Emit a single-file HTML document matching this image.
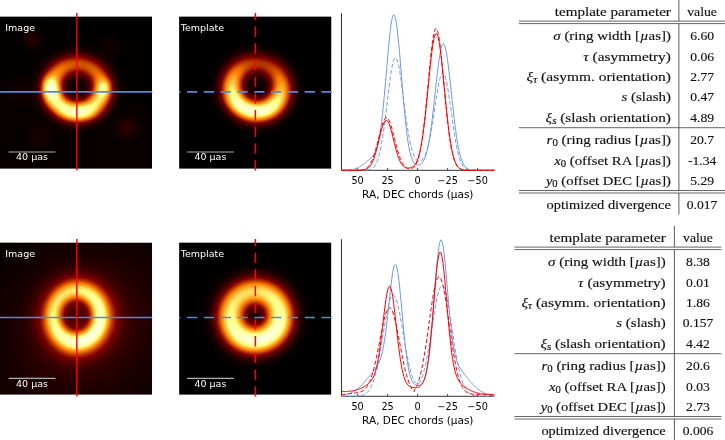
<!DOCTYPE html>
<html><head><meta charset="utf-8"><title>Template fits</title>
<style>
html,body{margin:0;padding:0;background:#fff;}
svg{display:block}
text{font-family:"DejaVu Sans","Liberation Sans",sans-serif;}
.tb text{font-family:"Liberation Serif",serif;font-size:13.3px;fill:#111;stroke:#111;stroke-width:0.15px;}
.tb .i{font-style:italic}
.tb .sub{font-size:9.6px}
</style></head><body>
<svg width="725" height="440" viewBox="0 0 725 440">
<defs>
<filter id="afmhot" x="0" y="0" width="100%" height="100%" color-interpolation-filters="sRGB">
<feComponentTransfer>
<feFuncR type="table" tableValues="0 0.5 1 1 1"/>
<feFuncG type="table" tableValues="0 0 0.5 1 1"/>
<feFuncB type="table" tableValues="0 0 0 0.5 1"/>
</feComponentTransfer>
</filter>
<radialGradient id="gb" cx="0.5" cy="0.5" r="0.5"><stop offset="0.0000" stop-color="#fff" stop-opacity="1.0000"/><stop offset="0.0833" stop-color="#fff" stop-opacity="0.9683"/><stop offset="0.1667" stop-color="#fff" stop-opacity="0.8806"/><stop offset="0.2500" stop-color="#fff" stop-opacity="0.7521"/><stop offset="0.3333" stop-color="#fff" stop-opacity="0.6028"/><stop offset="0.4167" stop-color="#fff" stop-opacity="0.4532"/><stop offset="0.5000" stop-color="#fff" stop-opacity="0.3191"/><stop offset="0.5833" stop-color="#fff" stop-opacity="0.2098"/><stop offset="0.6667" stop-color="#fff" stop-opacity="0.1279"/><stop offset="0.7500" stop-color="#fff" stop-opacity="0.0712"/><stop offset="0.8333" stop-color="#fff" stop-opacity="0.0347"/><stop offset="0.9167" stop-color="#fff" stop-opacity="0.0126"/><stop offset="1.0000" stop-color="#fff" stop-opacity="0.0000"/></radialGradient>
<radialGradient id="rga" gradientUnits="userSpaceOnUse" cx="77.30" cy="70.60" r="55.70" gradientTransform="translate(77.30 70.60) scale(0.98 0.95) translate(-77.30 -70.60)"><stop offset="0.0000" stop-color="#fff" stop-opacity="0.0033"/><stop offset="0.0250" stop-color="#fff" stop-opacity="0.0060"/><stop offset="0.0500" stop-color="#fff" stop-opacity="0.0104"/><stop offset="0.0750" stop-color="#fff" stop-opacity="0.0177"/><stop offset="0.1000" stop-color="#fff" stop-opacity="0.0289"/><stop offset="0.1250" stop-color="#fff" stop-opacity="0.0457"/><stop offset="0.1500" stop-color="#fff" stop-opacity="0.0700"/><stop offset="0.1750" stop-color="#fff" stop-opacity="0.1035"/><stop offset="0.2000" stop-color="#fff" stop-opacity="0.1481"/><stop offset="0.2250" stop-color="#fff" stop-opacity="0.2049"/><stop offset="0.2500" stop-color="#fff" stop-opacity="0.2741"/><stop offset="0.2750" stop-color="#fff" stop-opacity="0.3545"/><stop offset="0.3000" stop-color="#fff" stop-opacity="0.4435"/><stop offset="0.3250" stop-color="#fff" stop-opacity="0.5364"/><stop offset="0.3500" stop-color="#fff" stop-opacity="0.6275"/><stop offset="0.3750" stop-color="#fff" stop-opacity="0.7097"/><stop offset="0.4000" stop-color="#fff" stop-opacity="0.7762"/><stop offset="0.4250" stop-color="#fff" stop-opacity="0.8210"/><stop offset="0.4500" stop-color="#fff" stop-opacity="0.8396"/><stop offset="0.4750" stop-color="#fff" stop-opacity="0.8303"/><stop offset="0.5000" stop-color="#fff" stop-opacity="0.7940"/><stop offset="0.5250" stop-color="#fff" stop-opacity="0.7343"/><stop offset="0.5500" stop-color="#fff" stop-opacity="0.6566"/><stop offset="0.5750" stop-color="#fff" stop-opacity="0.5677"/><stop offset="0.6000" stop-color="#fff" stop-opacity="0.4747"/><stop offset="0.6250" stop-color="#fff" stop-opacity="0.3838"/><stop offset="0.6500" stop-color="#fff" stop-opacity="0.3001"/><stop offset="0.6750" stop-color="#fff" stop-opacity="0.2269"/><stop offset="0.7000" stop-color="#fff" stop-opacity="0.1658"/><stop offset="0.7250" stop-color="#fff" stop-opacity="0.1172"/><stop offset="0.7500" stop-color="#fff" stop-opacity="0.0801"/><stop offset="0.7750" stop-color="#fff" stop-opacity="0.0530"/><stop offset="0.8000" stop-color="#fff" stop-opacity="0.0339"/><stop offset="0.8250" stop-color="#fff" stop-opacity="0.0209"/><stop offset="0.8500" stop-color="#fff" stop-opacity="0.0125"/><stop offset="0.8750" stop-color="#fff" stop-opacity="0.0072"/><stop offset="0.9000" stop-color="#fff" stop-opacity="0.0040"/><stop offset="0.9250" stop-color="#fff" stop-opacity="0.0022"/><stop offset="0.9500" stop-color="#fff" stop-opacity="0.0011"/><stop offset="0.9750" stop-color="#fff" stop-opacity="0.0006"/><stop offset="1.0000" stop-color="#fff" stop-opacity="0.0003"/></radialGradient><linearGradient id="lga" gradientUnits="userSpaceOnUse" x1="89.72" y1="1.43" x2="72.83" y2="95.50"><stop offset="0" stop-color="#000" stop-opacity="1"/><stop offset="1" stop-color="#000" stop-opacity="0"/></linearGradient><radialGradient id="rgb" gradientUnits="userSpaceOnUse" cx="77.59" cy="69.72" r="54.99"><stop offset="0.0000" stop-color="#fff" stop-opacity="0.0050"/><stop offset="0.0250" stop-color="#fff" stop-opacity="0.0089"/><stop offset="0.0500" stop-color="#fff" stop-opacity="0.0152"/><stop offset="0.0750" stop-color="#fff" stop-opacity="0.0252"/><stop offset="0.1000" stop-color="#fff" stop-opacity="0.0403"/><stop offset="0.1250" stop-color="#fff" stop-opacity="0.0624"/><stop offset="0.1500" stop-color="#fff" stop-opacity="0.0935"/><stop offset="0.1750" stop-color="#fff" stop-opacity="0.1357"/><stop offset="0.2000" stop-color="#fff" stop-opacity="0.1905"/><stop offset="0.2250" stop-color="#fff" stop-opacity="0.2589"/><stop offset="0.2500" stop-color="#fff" stop-opacity="0.3405"/><stop offset="0.2750" stop-color="#fff" stop-opacity="0.4335"/><stop offset="0.3000" stop-color="#fff" stop-opacity="0.5341"/><stop offset="0.3250" stop-color="#fff" stop-opacity="0.6368"/><stop offset="0.3500" stop-color="#fff" stop-opacity="0.7349"/><stop offset="0.3750" stop-color="#fff" stop-opacity="0.8208"/><stop offset="0.4000" stop-color="#fff" stop-opacity="0.8872"/><stop offset="0.4250" stop-color="#fff" stop-opacity="0.9282"/><stop offset="0.4500" stop-color="#fff" stop-opacity="0.9398"/><stop offset="0.4750" stop-color="#fff" stop-opacity="0.9209"/><stop offset="0.5000" stop-color="#fff" stop-opacity="0.8734"/><stop offset="0.5250" stop-color="#fff" stop-opacity="0.8017"/><stop offset="0.5500" stop-color="#fff" stop-opacity="0.7122"/><stop offset="0.5750" stop-color="#fff" stop-opacity="0.6124"/><stop offset="0.6000" stop-color="#fff" stop-opacity="0.5096"/><stop offset="0.6250" stop-color="#fff" stop-opacity="0.4104"/><stop offset="0.6500" stop-color="#fff" stop-opacity="0.3199"/><stop offset="0.6750" stop-color="#fff" stop-opacity="0.2413"/><stop offset="0.7000" stop-color="#fff" stop-opacity="0.1762"/><stop offset="0.7250" stop-color="#fff" stop-opacity="0.1245"/><stop offset="0.7500" stop-color="#fff" stop-opacity="0.0851"/><stop offset="0.7750" stop-color="#fff" stop-opacity="0.0563"/><stop offset="0.8000" stop-color="#fff" stop-opacity="0.0361"/><stop offset="0.8250" stop-color="#fff" stop-opacity="0.0224"/><stop offset="0.8500" stop-color="#fff" stop-opacity="0.0134"/><stop offset="0.8750" stop-color="#fff" stop-opacity="0.0078"/><stop offset="0.9000" stop-color="#fff" stop-opacity="0.0044"/><stop offset="0.9250" stop-color="#fff" stop-opacity="0.0024"/><stop offset="0.9500" stop-color="#fff" stop-opacity="0.0013"/><stop offset="0.9750" stop-color="#fff" stop-opacity="0.0006"/><stop offset="1.0000" stop-color="#fff" stop-opacity="0.0003"/></radialGradient><linearGradient id="lgb" gradientUnits="userSpaceOnUse" x1="86.83" y1="18.24" x2="73.25" y2="93.91"><stop offset="0" stop-color="#000" stop-opacity="1"/><stop offset="1" stop-color="#000" stop-opacity="0"/></linearGradient><radialGradient id="rgc2" gradientUnits="userSpaceOnUse" cx="76.77" cy="73.33" r="70.00" gradientTransform="translate(76.77 73.33) scale(0.95 1.0) translate(-76.77 -73.33)"><stop offset="0.0000" stop-color="#fff" stop-opacity="0.0002"/><stop offset="0.0250" stop-color="#fff" stop-opacity="0.0003"/><stop offset="0.0500" stop-color="#fff" stop-opacity="0.0006"/><stop offset="0.0750" stop-color="#fff" stop-opacity="0.0012"/><stop offset="0.1000" stop-color="#fff" stop-opacity="0.0022"/><stop offset="0.1250" stop-color="#fff" stop-opacity="0.0039"/><stop offset="0.1500" stop-color="#fff" stop-opacity="0.0066"/><stop offset="0.1750" stop-color="#fff" stop-opacity="0.0108"/><stop offset="0.2000" stop-color="#fff" stop-opacity="0.0169"/><stop offset="0.2250" stop-color="#fff" stop-opacity="0.0256"/><stop offset="0.2500" stop-color="#fff" stop-opacity="0.0373"/><stop offset="0.2750" stop-color="#fff" stop-opacity="0.0522"/><stop offset="0.3000" stop-color="#fff" stop-opacity="0.0705"/><stop offset="0.3250" stop-color="#fff" stop-opacity="0.0916"/><stop offset="0.3500" stop-color="#fff" stop-opacity="0.1146"/><stop offset="0.3750" stop-color="#fff" stop-opacity="0.1380"/><stop offset="0.4000" stop-color="#fff" stop-opacity="0.1601"/><stop offset="0.4250" stop-color="#fff" stop-opacity="0.1789"/><stop offset="0.4500" stop-color="#fff" stop-opacity="0.1924"/><stop offset="0.4750" stop-color="#fff" stop-opacity="0.1993"/><stop offset="0.5000" stop-color="#fff" stop-opacity="0.1988"/><stop offset="0.5250" stop-color="#fff" stop-opacity="0.1909"/><stop offset="0.5500" stop-color="#fff" stop-opacity="0.1765"/><stop offset="0.5750" stop-color="#fff" stop-opacity="0.1571"/><stop offset="0.6000" stop-color="#fff" stop-opacity="0.1347"/><stop offset="0.6250" stop-color="#fff" stop-opacity="0.1112"/><stop offset="0.6500" stop-color="#fff" stop-opacity="0.0884"/><stop offset="0.6750" stop-color="#fff" stop-opacity="0.0677"/><stop offset="0.7000" stop-color="#fff" stop-opacity="0.0499"/><stop offset="0.7250" stop-color="#fff" stop-opacity="0.0354"/><stop offset="0.7500" stop-color="#fff" stop-opacity="0.0242"/><stop offset="0.7750" stop-color="#fff" stop-opacity="0.0159"/><stop offset="0.8000" stop-color="#fff" stop-opacity="0.0101"/><stop offset="0.8250" stop-color="#fff" stop-opacity="0.0061"/><stop offset="0.8500" stop-color="#fff" stop-opacity="0.0036"/><stop offset="0.8750" stop-color="#fff" stop-opacity="0.0020"/><stop offset="0.9000" stop-color="#fff" stop-opacity="0.0011"/><stop offset="0.9250" stop-color="#fff" stop-opacity="0.0006"/><stop offset="0.9500" stop-color="#fff" stop-opacity="0.0003"/><stop offset="0.9750" stop-color="#fff" stop-opacity="0.0001"/><stop offset="1.0000" stop-color="#fff" stop-opacity="0.0001"/></radialGradient><linearGradient id="lgc2" gradientUnits="userSpaceOnUse" x1="-209024.04" y1="-268025.26" x2="97.68" y2="100.14"><stop offset="0" stop-color="#000" stop-opacity="1"/><stop offset="1" stop-color="#000" stop-opacity="0"/></linearGradient><radialGradient id="rgc" gradientUnits="userSpaceOnUse" cx="76.77" cy="73.33" r="51.89" gradientTransform="translate(76.77 73.33) scale(0.915 1.0) translate(-76.77 -73.33)"><stop offset="0.0000" stop-color="#fff" stop-opacity="0.0004"/><stop offset="0.0250" stop-color="#fff" stop-opacity="0.0008"/><stop offset="0.0500" stop-color="#fff" stop-opacity="0.0018"/><stop offset="0.0750" stop-color="#fff" stop-opacity="0.0035"/><stop offset="0.1000" stop-color="#fff" stop-opacity="0.0066"/><stop offset="0.1250" stop-color="#fff" stop-opacity="0.0122"/><stop offset="0.1500" stop-color="#fff" stop-opacity="0.0214"/><stop offset="0.1750" stop-color="#fff" stop-opacity="0.0363"/><stop offset="0.2000" stop-color="#fff" stop-opacity="0.0592"/><stop offset="0.2250" stop-color="#fff" stop-opacity="0.0926"/><stop offset="0.2500" stop-color="#fff" stop-opacity="0.1394"/><stop offset="0.2750" stop-color="#fff" stop-opacity="0.2017"/><stop offset="0.3000" stop-color="#fff" stop-opacity="0.2806"/><stop offset="0.3250" stop-color="#fff" stop-opacity="0.3752"/><stop offset="0.3500" stop-color="#fff" stop-opacity="0.4822"/><stop offset="0.3750" stop-color="#fff" stop-opacity="0.5958"/><stop offset="0.4000" stop-color="#fff" stop-opacity="0.7078"/><stop offset="0.4250" stop-color="#fff" stop-opacity="0.8082"/><stop offset="0.4500" stop-color="#fff" stop-opacity="0.8871"/><stop offset="0.4750" stop-color="#fff" stop-opacity="0.9362"/><stop offset="0.5000" stop-color="#fff" stop-opacity="0.9496"/><stop offset="0.5250" stop-color="#fff" stop-opacity="0.9261"/><stop offset="0.5500" stop-color="#fff" stop-opacity="0.8681"/><stop offset="0.5750" stop-color="#fff" stop-opacity="0.7823"/><stop offset="0.6000" stop-color="#fff" stop-opacity="0.6777"/><stop offset="0.6250" stop-color="#fff" stop-opacity="0.5644"/><stop offset="0.6500" stop-color="#fff" stop-opacity="0.4519"/><stop offset="0.6750" stop-color="#fff" stop-opacity="0.3478"/><stop offset="0.7000" stop-color="#fff" stop-opacity="0.2573"/><stop offset="0.7250" stop-color="#fff" stop-opacity="0.1830"/><stop offset="0.7500" stop-color="#fff" stop-opacity="0.1251"/><stop offset="0.7750" stop-color="#fff" stop-opacity="0.0822"/><stop offset="0.8000" stop-color="#fff" stop-opacity="0.0519"/><stop offset="0.8250" stop-color="#fff" stop-opacity="0.0316"/><stop offset="0.8500" stop-color="#fff" stop-opacity="0.0184"/><stop offset="0.8750" stop-color="#fff" stop-opacity="0.0103"/><stop offset="0.9000" stop-color="#fff" stop-opacity="0.0056"/><stop offset="0.9250" stop-color="#fff" stop-opacity="0.0029"/><stop offset="0.9500" stop-color="#fff" stop-opacity="0.0014"/><stop offset="0.9750" stop-color="#fff" stop-opacity="0.0007"/><stop offset="1.0000" stop-color="#fff" stop-opacity="0.0003"/></radialGradient><linearGradient id="lgc" gradientUnits="userSpaceOnUse" x1="-21.66" y1="-52.88" x2="92.62" y2="93.65"><stop offset="0" stop-color="#000" stop-opacity="1"/><stop offset="1" stop-color="#000" stop-opacity="0"/></linearGradient><radialGradient id="rgd" gradientUnits="userSpaceOnUse" cx="75.96" cy="72.76" r="63.07"><stop offset="0.0000" stop-color="#fff" stop-opacity="0.0379"/><stop offset="0.0250" stop-color="#fff" stop-opacity="0.0566"/><stop offset="0.0500" stop-color="#fff" stop-opacity="0.0822"/><stop offset="0.0750" stop-color="#fff" stop-opacity="0.1163"/><stop offset="0.1000" stop-color="#fff" stop-opacity="0.1603"/><stop offset="0.1250" stop-color="#fff" stop-opacity="0.2151"/><stop offset="0.1500" stop-color="#fff" stop-opacity="0.2810"/><stop offset="0.1750" stop-color="#fff" stop-opacity="0.3574"/><stop offset="0.2000" stop-color="#fff" stop-opacity="0.4426"/><stop offset="0.2250" stop-color="#fff" stop-opacity="0.5337"/><stop offset="0.2500" stop-color="#fff" stop-opacity="0.6266"/><stop offset="0.2750" stop-color="#fff" stop-opacity="0.7163"/><stop offset="0.3000" stop-color="#fff" stop-opacity="0.7972"/><stop offset="0.3250" stop-color="#fff" stop-opacity="0.8640"/><stop offset="0.3500" stop-color="#fff" stop-opacity="0.9117"/><stop offset="0.3750" stop-color="#fff" stop-opacity="0.9367"/><stop offset="0.4000" stop-color="#fff" stop-opacity="0.9370"/><stop offset="0.4250" stop-color="#fff" stop-opacity="0.9127"/><stop offset="0.4500" stop-color="#fff" stop-opacity="0.8656"/><stop offset="0.4750" stop-color="#fff" stop-opacity="0.7993"/><stop offset="0.5000" stop-color="#fff" stop-opacity="0.7186"/><stop offset="0.5250" stop-color="#fff" stop-opacity="0.6291"/><stop offset="0.5500" stop-color="#fff" stop-opacity="0.5362"/><stop offset="0.5750" stop-color="#fff" stop-opacity="0.4450"/><stop offset="0.6000" stop-color="#fff" stop-opacity="0.3596"/><stop offset="0.6250" stop-color="#fff" stop-opacity="0.2829"/><stop offset="0.6500" stop-color="#fff" stop-opacity="0.2167"/><stop offset="0.6750" stop-color="#fff" stop-opacity="0.1617"/><stop offset="0.7000" stop-color="#fff" stop-opacity="0.1174"/><stop offset="0.7250" stop-color="#fff" stop-opacity="0.0830"/><stop offset="0.7500" stop-color="#fff" stop-opacity="0.0572"/><stop offset="0.7750" stop-color="#fff" stop-opacity="0.0383"/><stop offset="0.8000" stop-color="#fff" stop-opacity="0.0250"/><stop offset="0.8250" stop-color="#fff" stop-opacity="0.0159"/><stop offset="0.8500" stop-color="#fff" stop-opacity="0.0098"/><stop offset="0.8750" stop-color="#fff" stop-opacity="0.0059"/><stop offset="0.9000" stop-color="#fff" stop-opacity="0.0035"/><stop offset="0.9250" stop-color="#fff" stop-opacity="0.0020"/><stop offset="0.9500" stop-color="#fff" stop-opacity="0.0011"/><stop offset="0.9750" stop-color="#fff" stop-opacity="0.0006"/><stop offset="1.0000" stop-color="#fff" stop-opacity="0.0003"/></radialGradient><linearGradient id="lgd" gradientUnits="userSpaceOnUse" x1="31.05" y1="-76.44" x2="83.02" y2="96.18"><stop offset="0" stop-color="#000" stop-opacity="1"/><stop offset="1" stop-color="#000" stop-opacity="0"/></linearGradient>
</defs>
<rect width="725" height="440" fill="#fff"/>
<svg x="-0.3" y="16.5" width="152.3" height="152.3" viewBox="0 0 152 152" preserveAspectRatio="none"><g filter="url(#afmhot)"><rect width="152" height="152" fill="#000"/><rect width="152" height="152" fill="#fff" fill-opacity="0.012"/><ellipse cx="77.30" cy="70.60" rx="54.59" ry="52.91" fill="url(#rga)"/><rect x="0" y="0" width="152" height="152" fill="url(#lga)"/><ellipse cx="51.00" cy="73.00" rx="14.40" ry="22.80" fill="url(#gb)" fill-opacity="0.92" transform="rotate(-8 51.00 73.00)"/><ellipse cx="103.50" cy="72.50" rx="13.20" ry="18.60" fill="url(#gb)" fill-opacity="0.6" transform="rotate(8 103.50 72.50)"/><ellipse cx="78.50" cy="96.00" rx="28.50" ry="13.50" fill="url(#gb)" fill-opacity="0.42"/><ellipse cx="33.00" cy="23.00" rx="18.00" ry="18.00" fill="url(#gb)" fill-opacity="0.07"/><ellipse cx="127.00" cy="111.00" rx="21.00" ry="21.00" fill="url(#gb)" fill-opacity="0.08"/><ellipse cx="40.00" cy="120.00" rx="24.00" ry="24.00" fill="url(#gb)" fill-opacity="0.04"/><ellipse cx="110.00" cy="30.00" rx="24.00" ry="24.00" fill="url(#gb)" fill-opacity="0.03"/><ellipse cx="22.00" cy="75.00" rx="27.00" ry="27.00" fill="url(#gb)" fill-opacity="0.03"/></g></svg><path d="M152.30 91.90H0.00" stroke="#5688da" stroke-width="1.65" fill="none"/><path d="M76.85 170.50V13.00" stroke="#f00" stroke-width="1.45" fill="none"/><text x="5.30" y="30.55" font-size="9.5" fill="#fff">Image</text><path d="M8.70 152.05h46.8" stroke="#b0b0b0" stroke-width="1.1"/><text x="32.00" y="160.30" font-size="9.5" fill="#fff" text-anchor="middle">40 µas</text><svg x="179.1" y="16.5" width="152.3" height="152.3" viewBox="0 0 152 152" preserveAspectRatio="none"><g filter="url(#afmhot)"><rect width="152" height="152" fill="#000"/><ellipse cx="77.59" cy="69.72" rx="54.99" ry="54.99" fill="url(#rgb)"/><rect x="0" y="0" width="152" height="152" fill="url(#lgb)"/></g></svg><path d="M331.70 91.90H179.20" stroke="#5688da" stroke-width="1.65" fill="none" stroke-dasharray="10.3 6.5"/><path d="M255.40 170.50V13.00" stroke="#f00" stroke-width="1.45" fill="none" stroke-dasharray="10.3 6.4"/><text x="180.80" y="30.55" font-size="9.5" fill="#fff">Template</text><path d="M187.10 152.05h46.8" stroke="#b0b0b0" stroke-width="1.1"/><text x="210.40" y="160.30" font-size="9.5" fill="#fff" text-anchor="middle">40 µas</text><svg x="-0.3" y="242.5" width="152.3" height="152.3" viewBox="0 0 152 152" preserveAspectRatio="none"><g filter="url(#afmhot)"><rect width="152" height="152" fill="#000"/><rect width="152" height="152" fill="#fff" fill-opacity="0.025"/><ellipse cx="76.77" cy="73.33" rx="138.00" ry="138.00" fill="url(#gb)" fill-opacity="0.15"/><ellipse cx="76.77" cy="73.33" rx="66.50" ry="70.00" fill="url(#rgc2)"/><rect x="0" y="0" width="152" height="152" fill="url(#lgc2)"/><ellipse cx="76.77" cy="73.33" rx="47.48" ry="51.89" fill="url(#rgc)"/><rect x="0" y="0" width="152" height="152" fill="url(#lgc)"/></g></svg><path d="M152.30 317.45H0.00" stroke="#5688da" stroke-width="1.65" fill="none"/><path d="M76.85 396.50V239.00" stroke="#f00" stroke-width="1.45" fill="none"/><text x="5.30" y="256.55" font-size="9.5" fill="#fff">Image</text><path d="M8.70 378.40h46.8" stroke="#b0b0b0" stroke-width="1.1"/><text x="32.00" y="386.90" font-size="9.5" fill="#fff" text-anchor="middle">40 µas</text><svg x="179.1" y="242.5" width="152.3" height="152.3" viewBox="0 0 152 152" preserveAspectRatio="none"><g filter="url(#afmhot)"><rect width="152" height="152" fill="#000"/><ellipse cx="75.96" cy="72.76" rx="63.07" ry="63.07" fill="url(#rgd)"/><rect x="0" y="0" width="152" height="152" fill="url(#lgd)"/></g></svg><path d="M331.70 317.45H179.20" stroke="#5688da" stroke-width="1.65" fill="none" stroke-dasharray="10.3 6.5"/><path d="M255.40 396.50V239.00" stroke="#f00" stroke-width="1.45" fill="none" stroke-dasharray="10.3 6.4"/><text x="180.80" y="256.55" font-size="9.5" fill="#fff">Template</text><path d="M187.10 378.40h46.8" stroke="#b0b0b0" stroke-width="1.1"/><text x="210.40" y="386.90" font-size="9.5" fill="#fff" text-anchor="middle">40 µas</text><path d="M341.5 13.2V170.3H494.3" stroke="#333" stroke-width="1" fill="none"/><path d="M357.60 170.3v-2.4" stroke="#333" stroke-width="0.9"/><text x="357.60" y="183.80" font-size="9.7" text-anchor="middle" fill="#000">50</text><path d="M387.60 170.3v-2.4" stroke="#333" stroke-width="0.9"/><text x="387.60" y="183.80" font-size="9.7" text-anchor="middle" fill="#000">25</text><path d="M417.60 170.3v-2.4" stroke="#333" stroke-width="0.9"/><text x="417.60" y="183.80" font-size="9.7" text-anchor="middle" fill="#000">0</text><path d="M447.60 170.3v-2.4" stroke="#333" stroke-width="0.9"/><text x="447.60" y="183.80" font-size="9.7" text-anchor="middle" fill="#000">−25</text><path d="M477.60 170.3v-2.4" stroke="#333" stroke-width="0.9"/><text x="477.60" y="183.80" font-size="9.7" text-anchor="middle" fill="#000">−50</text><text x="417.8" y="198.20" font-size="10.5" text-anchor="middle" fill="#000">RA, DEC chords (µas)</text><g fill="none" stroke-width="1" stroke-linejoin="round"><path d="M341.5 170.3 L342.4 170.3 L343.2 170.3 L344.1 170.2 L344.9 170.2 L345.8 170.2 L346.6 170.2 L347.5 170.1 L348.3 170.1 L349.2 170.0 L350.1 169.9 L350.9 169.8 L351.8 169.7 L352.6 169.5 L353.5 169.3 L354.3 169.1 L355.2 168.8 L356.0 168.5 L356.9 168.2 L357.7 167.8 L358.6 167.4 L359.4 166.9 L360.3 166.4 L361.1 165.8 L362.0 165.2 L362.9 164.6 L363.7 163.9 L364.6 163.3 L365.4 162.6 L366.3 161.9 L367.1 161.3 L368.0 160.6 L368.8 159.9 L369.7 159.2 L370.5 158.5 L371.4 157.7 L372.2 156.8 L373.1 155.8 L373.9 154.6 L374.8 153.1 L375.7 151.3 L376.5 149.0 L377.4 146.3 L378.2 142.9 L379.1 138.8 L379.9 134.0 L380.8 128.3 L381.6 121.7 L382.5 114.4 L383.3 106.2 L384.2 97.3 L385.0 87.8 L385.9 77.9 L386.8 67.8 L387.6 57.8 L388.5 48.3 L389.3 39.4 L390.2 31.5 L391.0 24.8 L391.9 19.7 L392.7 16.3 L393.6 14.8 L394.4 15.2 L395.3 17.5 L396.1 21.7 L397.0 27.5 L397.8 34.9 L398.7 43.4 L399.6 52.9 L400.4 63.0 L401.3 73.5 L402.1 84.0 L403.0 94.3 L403.8 104.2 L404.7 113.4 L405.5 121.9 L406.4 129.6 L407.2 136.4 L408.1 142.3 L408.9 147.3 L409.8 151.5 L410.6 155.0 L411.5 157.8 L412.4 160.0 L413.2 161.7 L414.1 163.0 L414.9 163.9 L415.8 164.6 L416.6 165.0 L417.5 165.1 L418.3 165.1 L419.2 165.0 L420.0 164.6 L420.9 164.1 L421.7 163.3 L422.6 162.3 L423.4 160.9 L424.3 159.3 L425.2 157.2 L426.0 154.6 L426.9 151.6 L427.7 148.0 L428.6 143.8 L429.4 139.0 L430.3 133.6 L431.1 127.5 L432.0 120.9 L432.8 113.8 L433.7 106.3 L434.5 98.5 L435.4 90.6 L436.2 82.7 L437.1 75.1 L438.0 67.9 L438.8 61.3 L439.7 55.5 L440.5 50.8 L441.4 47.2 L442.2 44.8 L443.1 43.8 L443.9 44.2 L444.8 45.9 L445.6 49.0 L446.5 53.2 L447.3 58.6 L448.2 64.8 L449.0 71.8 L449.9 79.3 L450.8 87.2 L451.6 95.2 L452.5 103.2 L453.3 110.9 L454.2 118.4 L455.0 125.4 L455.9 131.9 L456.7 137.8 L457.6 143.1 L458.4 147.8 L459.3 151.8 L460.1 155.4 L461.0 158.3 L461.9 160.8 L462.7 162.9 L463.6 164.5 L464.4 165.9 L465.3 166.9 L466.1 167.8 L467.0 168.4 L467.8 168.9 L468.7 169.3 L469.5 169.6 L470.4 169.8 L471.2 169.9 L472.1 170.1 L472.9 170.1 L473.8 170.2 L474.7 170.2 L475.5 170.2 L476.4 170.3 L477.2 170.3 L478.1 170.3 L478.9 170.3 L479.8 170.3 L480.6 170.3 L481.5 170.3 L482.3 170.3 L483.2 170.3 L484.0 170.3 L484.9 170.3 L485.7 170.3 L486.6 170.3 L487.5 170.3 L488.3 170.3 L489.2 170.3 L490.0 170.3 L490.9 170.3 L491.7 170.3 L492.6 170.3 L493.4 170.3 L494.3 170.3" stroke="#6f9be8"/><path d="M341.5 170.3 L342.4 170.3 L343.2 170.3 L344.1 170.3 L344.9 170.3 L345.8 170.3 L346.6 170.3 L347.5 170.3 L348.3 170.3 L349.2 170.3 L350.1 170.3 L350.9 170.3 L351.8 170.3 L352.6 170.3 L353.5 170.3 L354.3 170.3 L355.2 170.3 L356.0 170.3 L356.9 170.3 L357.7 170.3 L358.6 170.3 L359.4 170.3 L360.3 170.3 L361.1 170.3 L362.0 170.3 L362.9 170.3 L363.7 170.3 L364.6 170.2 L365.4 170.2 L366.3 170.1 L367.1 170.1 L368.0 169.9 L368.8 169.8 L369.7 169.6 L370.5 169.3 L371.4 168.9 L372.2 168.4 L373.1 167.8 L373.9 166.9 L374.8 165.9 L375.7 164.5 L376.5 162.9 L377.4 160.8 L378.2 158.4 L379.1 155.4 L379.9 152.0 L380.8 148.0 L381.6 143.5 L382.5 138.4 L383.3 132.8 L384.2 126.7 L385.0 120.2 L385.9 113.3 L386.8 106.2 L387.6 99.0 L388.5 91.9 L389.3 85.0 L390.2 78.6 L391.0 72.7 L391.9 67.7 L392.7 63.5 L393.6 60.4 L394.4 58.4 L395.3 57.6 L396.1 57.9 L397.0 59.5 L397.8 62.1 L398.7 65.8 L399.6 70.4 L400.4 75.7 L401.3 81.7 L402.1 88.0 L403.0 94.6 L403.8 101.3 L404.7 107.9 L405.5 114.4 L406.4 120.5 L407.2 126.3 L408.1 131.7 L408.9 136.6 L409.8 141.0 L410.6 144.9 L411.5 148.3 L412.4 151.2 L413.2 153.7 L414.1 155.8 L414.9 157.5 L415.8 158.8 L416.6 159.9 L417.5 160.6 L418.3 161.1 L419.2 161.3 L420.0 161.2 L420.9 160.9 L421.7 160.4 L422.6 159.5 L423.4 158.4 L424.3 157.0 L425.2 155.2 L426.0 153.1 L426.9 150.6 L427.7 147.6 L428.6 144.3 L429.4 140.5 L430.3 136.3 L431.1 131.7 L432.0 126.7 L432.8 121.4 L433.7 115.8 L434.5 110.1 L435.4 104.4 L436.2 98.7 L437.1 93.3 L438.0 88.2 L438.8 83.6 L439.7 79.7 L440.5 76.5 L441.4 74.3 L442.2 72.9 L443.1 72.6 L443.9 73.4 L444.8 75.1 L445.6 77.8 L446.5 81.4 L447.3 85.8 L448.2 90.8 L449.0 96.4 L449.9 102.3 L450.8 108.5 L451.6 114.7 L452.5 120.8 L453.3 126.8 L454.2 132.5 L455.0 137.8 L455.9 142.6 L456.7 147.0 L457.6 151.0 L458.4 154.4 L459.3 157.4 L460.1 159.9 L461.0 162.1 L461.9 163.8 L462.7 165.3 L463.6 166.4 L464.4 167.4 L465.3 168.1 L466.1 168.7 L467.0 169.1 L467.8 169.4 L468.7 169.7 L469.5 169.9 L470.4 170.0 L471.2 170.1 L472.1 170.2 L472.9 170.2 L473.8 170.2 L474.7 170.3 L475.5 170.3 L476.4 170.3 L477.2 170.3 L478.1 170.3 L478.9 170.3 L479.8 170.3 L480.6 170.3 L481.5 170.3 L482.3 170.3 L483.2 170.3 L484.0 170.3 L484.9 170.3 L485.7 170.3 L486.6 170.3 L487.5 170.3 L488.3 170.3 L489.2 170.3 L490.0 170.3 L490.9 170.3 L491.7 170.3 L492.6 170.3 L493.4 170.3 L494.3 170.3" stroke="#6f9be8" stroke-dasharray="4.2 2.2"/><path d="M341.5 170.3 L342.4 170.3 L343.2 170.3 L344.1 170.3 L344.9 170.3 L345.8 170.3 L346.6 170.3 L347.5 170.3 L348.3 170.3 L349.2 170.3 L350.1 170.3 L350.9 170.3 L351.8 170.3 L352.6 170.3 L353.5 170.3 L354.3 170.3 L355.2 170.3 L356.0 170.3 L356.9 170.3 L357.7 170.3 L358.6 170.3 L359.4 170.2 L360.3 170.2 L361.1 170.2 L362.0 170.1 L362.9 170.0 L363.7 169.9 L364.6 169.7 L365.4 169.4 L366.3 169.1 L367.1 168.7 L368.0 168.1 L368.8 167.4 L369.7 166.5 L370.5 165.4 L371.4 164.0 L372.2 162.4 L373.1 160.4 L373.9 158.2 L374.8 155.7 L375.7 152.9 L376.5 149.8 L377.4 146.5 L378.2 143.1 L379.1 139.5 L379.9 136.0 L380.8 132.6 L381.6 129.5 L382.5 126.6 L383.3 124.2 L384.2 122.3 L385.0 121.0 L385.9 120.4 L386.8 120.4 L387.6 121.1 L388.5 122.5 L389.3 124.4 L390.2 126.9 L391.0 129.8 L391.9 132.9 L392.7 136.3 L393.6 139.8 L394.4 143.3 L395.3 146.7 L396.1 150.0 L397.0 153.0 L397.8 155.7 L398.7 158.1 L399.6 160.3 L400.4 162.1 L401.3 163.6 L402.1 164.8 L403.0 165.8 L403.8 166.6 L404.7 167.1 L405.5 167.5 L406.4 167.8 L407.2 168.0 L408.1 168.0 L408.9 168.0 L409.8 167.9 L410.6 167.7 L411.5 167.4 L412.4 167.0 L413.2 166.4 L414.1 165.7 L414.9 164.7 L415.8 163.5 L416.6 162.0 L417.5 160.1 L418.3 157.7 L419.2 154.8 L420.0 151.4 L420.9 147.3 L421.7 142.5 L422.6 137.1 L423.4 131.0 L424.3 124.2 L425.2 116.7 L426.0 108.8 L426.9 100.4 L427.7 91.7 L428.6 82.9 L429.4 74.2 L430.3 65.8 L431.1 58.0 L432.0 50.9 L432.8 44.8 L433.7 39.8 L434.5 36.2 L435.4 34.0 L436.2 33.3 L437.1 34.2 L438.0 36.5 L438.8 40.3 L439.7 45.4 L440.5 51.7 L441.4 58.9 L442.2 66.8 L443.1 75.3 L443.9 84.0 L444.8 92.8 L445.6 101.5 L446.5 109.9 L447.3 117.9 L448.2 125.3 L449.0 132.1 L449.9 138.2 L450.8 143.7 L451.6 148.5 L452.5 152.6 L453.3 156.1 L454.2 159.0 L455.0 161.5 L455.9 163.4 L456.7 165.0 L457.6 166.3 L458.4 167.3 L459.3 168.1 L460.1 168.7 L461.0 169.1 L461.9 169.5 L462.7 169.7 L463.6 169.9 L464.4 170.0 L465.3 170.1 L466.1 170.2 L467.0 170.2 L467.8 170.2 L468.7 170.3 L469.5 170.3 L470.4 170.3 L471.2 170.3 L472.1 170.3 L472.9 170.3 L473.8 170.3 L474.7 170.3 L475.5 170.3 L476.4 170.3 L477.2 170.3 L478.1 170.3 L478.9 170.3 L479.8 170.3 L480.6 170.3 L481.5 170.3 L482.3 170.3 L483.2 170.3 L484.0 170.3 L484.9 170.3 L485.7 170.3 L486.6 170.3 L487.5 170.3 L488.3 170.3 L489.2 170.3 L490.0 170.3 L490.9 170.3 L491.7 170.3 L492.6 170.3 L493.4 170.3 L494.3 170.3" stroke="#f00"/><path d="M341.5 170.3 L342.4 170.3 L343.2 170.3 L344.1 170.3 L344.9 170.3 L345.8 170.3 L346.6 170.3 L347.5 170.3 L348.3 170.3 L349.2 170.3 L350.1 170.3 L350.9 170.3 L351.8 170.3 L352.6 170.3 L353.5 170.3 L354.3 170.3 L355.2 170.3 L356.0 170.3 L356.9 170.3 L357.7 170.2 L358.6 170.2 L359.4 170.1 L360.3 170.1 L361.1 170.0 L362.0 169.9 L362.9 169.7 L363.7 169.4 L364.6 169.1 L365.4 168.8 L366.3 168.3 L367.1 167.6 L368.0 166.8 L368.8 165.9 L369.7 164.7 L370.5 163.3 L371.4 161.7 L372.2 159.8 L373.1 157.7 L373.9 155.2 L374.8 152.5 L375.7 149.6 L376.5 146.5 L377.4 143.2 L378.2 139.8 L379.1 136.3 L379.9 133.0 L380.8 129.7 L381.6 126.7 L382.5 124.0 L383.3 121.7 L384.2 119.9 L385.0 118.6 L385.9 117.9 L386.8 117.7 L387.6 118.2 L388.5 119.3 L389.3 120.9 L390.2 123.0 L391.0 125.5 L391.9 128.4 L392.7 131.6 L393.6 134.9 L394.4 138.3 L395.3 141.7 L396.1 145.0 L397.0 148.2 L397.8 151.2 L398.7 154.0 L399.6 156.5 L400.4 158.7 L401.3 160.7 L402.1 162.5 L403.0 163.9 L403.8 165.2 L404.7 166.2 L405.5 167.1 L406.4 167.7 L407.2 168.3 L408.1 168.7 L408.9 168.9 L409.8 169.1 L410.6 169.1 L411.5 168.8 L412.4 168.3 L413.2 167.7 L414.1 166.9 L414.9 165.9 L415.8 164.6 L416.6 162.9 L417.5 160.8 L418.3 158.2 L419.2 155.1 L420.0 151.4 L420.9 147.0 L421.7 142.0 L422.6 136.2 L423.4 129.7 L424.3 122.5 L425.2 114.7 L426.0 106.3 L426.9 97.4 L427.7 88.3 L428.6 79.1 L429.4 70.0 L430.3 61.2 L431.1 53.1 L432.0 45.7 L432.8 39.5 L433.7 34.5 L434.5 30.9 L435.4 28.9 L436.2 28.5 L437.1 29.7 L438.0 32.5 L438.8 36.8 L439.7 42.5 L440.5 49.3 L441.4 57.1 L442.2 65.6 L443.1 74.6 L443.9 83.8 L444.8 93.1 L445.6 102.1 L446.5 110.8 L447.3 118.9 L448.2 126.5 L449.0 133.4 L449.9 139.5 L450.8 145.0 L451.6 149.7 L452.5 153.7 L453.3 157.1 L454.2 159.9 L455.0 162.2 L455.9 164.1 L456.7 165.6 L457.6 166.8 L458.4 167.7 L459.3 168.4 L460.1 168.9 L461.0 169.3 L461.9 169.6 L462.7 169.8 L463.6 170.0 L464.4 170.1 L465.3 170.1 L466.1 170.2 L467.0 170.2 L467.8 170.3 L468.7 170.3 L469.5 170.3 L470.4 170.3 L471.2 170.3 L472.1 170.3 L472.9 170.3 L473.8 170.3 L474.7 170.3 L475.5 170.3 L476.4 170.3 L477.2 170.3 L478.1 170.3 L478.9 170.3 L479.8 170.3 L480.6 170.3 L481.5 170.3 L482.3 170.3 L483.2 170.3 L484.0 170.3 L484.9 170.3 L485.7 170.3 L486.6 170.3 L487.5 170.3 L488.3 170.3 L489.2 170.3 L490.0 170.3 L490.9 170.3 L491.7 170.3 L492.6 170.3 L493.4 170.3 L494.3 170.3" stroke="#f00" stroke-dasharray="4.2 2.2"/></g><path d="M341.5 239.2V396.3H494.3" stroke="#333" stroke-width="1" fill="none"/><path d="M357.60 396.3v-2.4" stroke="#333" stroke-width="0.9"/><text x="357.60" y="409.80" font-size="9.7" text-anchor="middle" fill="#000">50</text><path d="M387.60 396.3v-2.4" stroke="#333" stroke-width="0.9"/><text x="387.60" y="409.80" font-size="9.7" text-anchor="middle" fill="#000">25</text><path d="M417.60 396.3v-2.4" stroke="#333" stroke-width="0.9"/><text x="417.60" y="409.80" font-size="9.7" text-anchor="middle" fill="#000">0</text><path d="M447.60 396.3v-2.4" stroke="#333" stroke-width="0.9"/><text x="447.60" y="409.80" font-size="9.7" text-anchor="middle" fill="#000">−25</text><path d="M477.60 396.3v-2.4" stroke="#333" stroke-width="0.9"/><text x="477.60" y="409.80" font-size="9.7" text-anchor="middle" fill="#000">−50</text><text x="417.8" y="424.20" font-size="10.5" text-anchor="middle" fill="#000">RA, DEC chords (µas)</text><g fill="none" stroke-width="1" stroke-linejoin="round"><path d="M341.5 395.5 L342.4 395.4 L343.2 395.3 L344.1 395.1 L344.9 394.9 L345.8 394.7 L346.6 394.5 L347.5 394.3 L348.3 394.0 L349.2 393.7 L350.1 393.4 L350.9 393.0 L351.8 392.6 L352.6 392.1 L353.5 391.7 L354.3 391.2 L355.2 390.6 L356.0 390.0 L356.9 389.4 L357.7 388.7 L358.6 388.0 L359.4 387.2 L360.3 386.4 L361.1 385.6 L362.0 384.7 L362.9 383.8 L363.7 382.8 L364.6 381.8 L365.4 380.8 L366.3 379.8 L367.1 378.8 L368.0 377.7 L368.8 376.7 L369.7 375.6 L370.5 374.6 L371.4 373.5 L372.2 372.5 L373.1 371.4 L373.9 370.4 L374.8 369.3 L375.7 368.2 L376.5 367.0 L377.4 365.6 L378.2 364.1 L379.1 362.4 L379.9 360.4 L380.8 358.0 L381.6 355.0 L382.5 351.6 L383.3 347.5 L384.2 342.6 L385.0 337.1 L385.9 330.8 L386.8 323.9 L387.6 316.4 L388.5 308.5 L389.3 300.4 L390.2 292.4 L391.0 284.9 L391.9 278.1 L392.7 272.4 L393.6 268.1 L394.4 265.3 L395.3 264.4 L396.1 265.3 L397.0 268.1 L397.8 272.7 L398.7 278.8 L399.6 286.2 L400.4 294.6 L401.3 303.7 L402.1 313.0 L403.0 322.4 L403.8 331.5 L404.7 340.0 L405.5 347.9 L406.4 354.9 L407.2 361.1 L408.1 366.3 L408.9 370.8 L409.8 374.4 L410.6 377.4 L411.5 379.7 L412.4 381.5 L413.2 382.9 L414.1 383.9 L414.9 384.6 L415.8 385.1 L416.6 385.5 L417.5 385.6 L418.3 385.6 L419.2 385.5 L420.0 385.1 L420.9 384.6 L421.7 383.9 L422.6 382.9 L423.4 381.5 L424.3 379.7 L425.2 377.3 L426.0 374.2 L426.9 370.4 L427.7 365.7 L428.6 360.0 L429.4 353.3 L430.3 345.5 L431.1 336.7 L432.0 327.0 L432.8 316.4 L433.7 305.4 L434.5 294.0 L435.4 282.8 L436.2 272.1 L437.1 262.4 L438.0 254.0 L438.8 247.3 L439.7 242.6 L440.5 240.1 L441.4 239.8 L442.2 241.9 L443.1 246.1 L443.9 252.1 L444.8 259.8 L445.6 268.6 L446.5 278.2 L447.3 288.2 L448.2 298.2 L449.0 308.0 L449.9 317.1 L450.8 325.5 L451.6 333.1 L452.5 339.7 L453.3 345.5 L454.2 350.3 L455.0 354.4 L455.9 357.8 L456.7 360.6 L457.6 363.0 L458.4 365.0 L459.3 366.7 L460.1 368.2 L461.0 369.5 L461.9 370.8 L462.7 371.9 L463.6 373.1 L464.4 374.2 L465.3 375.3 L466.1 376.3 L467.0 377.4 L467.8 378.5 L468.7 379.5 L469.5 380.5 L470.4 381.5 L471.2 382.5 L472.1 383.5 L472.9 384.4 L473.8 385.3 L474.7 386.1 L475.5 387.0 L476.4 387.7 L477.2 388.5 L478.1 389.2 L478.9 389.8 L479.8 390.4 L480.6 391.0 L481.5 391.5 L482.3 392.0 L483.2 392.5 L484.0 392.9 L484.9 393.3 L485.7 393.6 L486.6 393.9 L487.5 394.2 L488.3 394.4 L489.2 394.7 L490.0 394.9 L490.9 395.1 L491.7 395.2 L492.6 395.4 L493.4 395.5 L494.3 395.6" stroke="#6f9be8"/><path d="M341.5 396.3 L342.4 396.3 L343.2 396.3 L344.1 396.3 L344.9 396.3 L345.8 396.3 L346.6 396.3 L347.5 396.3 L348.3 396.3 L349.2 396.3 L350.1 396.3 L350.9 396.3 L351.8 396.3 L352.6 396.3 L353.5 396.3 L354.3 396.2 L355.2 396.2 L356.0 396.2 L356.9 396.1 L357.7 396.1 L358.6 396.0 L359.4 395.9 L360.3 395.8 L361.1 395.6 L362.0 395.4 L362.9 395.2 L363.7 394.8 L364.6 394.4 L365.4 393.9 L366.3 393.3 L367.1 392.6 L368.0 391.7 L368.8 390.7 L369.7 389.4 L370.5 388.0 L371.4 386.3 L372.2 384.3 L373.1 382.1 L373.9 379.5 L374.8 376.7 L375.7 373.5 L376.5 370.0 L377.4 366.2 L378.2 362.1 L379.1 357.7 L379.9 353.1 L380.8 348.2 L381.6 343.2 L382.5 338.0 L383.3 332.9 L384.2 327.7 L385.0 322.7 L385.9 317.8 L386.8 313.3 L387.6 309.0 L388.5 305.3 L389.3 302.0 L390.2 299.3 L391.0 297.2 L391.9 295.8 L392.7 295.1 L393.6 295.1 L394.4 295.8 L395.3 297.2 L396.1 299.3 L397.0 301.9 L397.8 305.2 L398.7 308.9 L399.6 313.0 L400.4 317.5 L401.3 322.2 L402.1 327.2 L403.0 332.2 L403.8 337.2 L404.7 342.2 L405.5 347.0 L406.4 351.7 L407.2 356.1 L408.1 360.3 L408.9 364.3 L409.8 367.8 L410.6 371.1 L411.5 374.0 L412.4 376.6 L413.2 378.8 L414.1 380.7 L414.9 382.2 L415.8 383.2 L416.6 383.9 L417.5 384.0 L418.3 383.7 L419.2 382.9 L420.0 381.7 L420.9 380.1 L421.7 378.1 L422.6 375.7 L423.4 373.0 L424.3 369.8 L425.2 366.3 L426.0 362.4 L426.9 358.2 L427.7 353.7 L428.6 348.9 L429.4 343.8 L430.3 338.5 L431.1 333.1 L432.0 327.6 L432.8 322.1 L433.7 316.7 L434.5 311.5 L435.4 306.5 L436.2 301.9 L437.1 297.7 L438.0 294.0 L438.8 291.0 L439.7 288.5 L440.5 286.9 L441.4 285.9 L442.2 285.7 L443.1 286.3 L443.9 287.7 L444.8 289.8 L445.6 292.6 L446.5 296.0 L447.3 300.0 L448.2 304.5 L449.0 309.5 L449.9 314.7 L450.8 320.1 L451.6 325.8 L452.5 331.4 L453.3 337.0 L454.2 342.6 L455.0 347.9 L455.9 353.0 L456.7 357.9 L457.6 362.5 L458.4 366.7 L459.3 370.6 L460.1 374.1 L461.0 377.3 L461.9 380.2 L462.7 382.7 L463.6 384.9 L464.4 386.8 L465.3 388.5 L466.1 389.9 L467.0 391.1 L467.8 392.1 L468.7 392.9 L469.5 393.6 L470.4 394.2 L471.2 394.6 L472.1 395.0 L472.9 395.3 L473.8 395.5 L474.7 395.7 L475.5 395.8 L476.4 396.0 L477.2 396.0 L478.1 396.1 L478.9 396.2 L479.8 396.2 L480.6 396.2 L481.5 396.2 L482.3 396.3 L483.2 396.3 L484.0 396.3 L484.9 396.3 L485.7 396.3 L486.6 396.3 L487.5 396.3 L488.3 396.3 L489.2 396.3 L490.0 396.3 L490.9 396.3 L491.7 396.3 L492.6 396.3 L493.4 396.3 L494.3 396.3" stroke="#6f9be8" stroke-dasharray="4.2 2.2"/><path d="M341.5 391.5 L342.4 391.5 L343.2 391.5 L344.1 391.5 L344.9 391.5 L345.8 391.5 L346.6 391.4 L347.5 391.4 L348.3 391.4 L349.2 391.3 L350.1 391.2 L350.9 391.1 L351.8 391.0 L352.6 390.9 L353.5 390.7 L354.3 390.6 L355.2 390.4 L356.0 390.1 L356.9 389.9 L357.7 389.6 L358.6 389.3 L359.4 389.0 L360.3 388.6 L361.1 388.2 L362.0 387.8 L362.9 387.4 L363.7 386.9 L364.6 386.4 L365.4 385.8 L366.3 385.3 L367.1 384.6 L368.0 384.0 L368.8 383.2 L369.7 382.4 L370.5 381.4 L371.4 380.3 L372.2 379.0 L373.1 377.5 L373.9 375.6 L374.8 373.3 L375.7 370.6 L376.5 367.3 L377.4 363.5 L378.2 359.0 L379.1 353.9 L379.9 348.1 L380.8 341.7 L381.6 334.8 L382.5 327.6 L383.3 320.2 L384.2 312.9 L385.0 306.0 L385.9 299.7 L386.8 294.3 L387.6 290.2 L388.5 287.4 L389.3 286.1 L390.2 286.5 L391.0 288.4 L391.9 291.9 L392.7 296.8 L393.6 302.8 L394.4 309.6 L395.3 317.0 L396.1 324.8 L397.0 332.5 L397.8 340.1 L398.7 347.2 L399.6 353.8 L400.4 359.7 L401.3 364.9 L402.1 369.4 L403.0 373.2 L403.8 376.4 L404.7 379.0 L405.5 381.1 L406.4 382.7 L407.2 384.0 L408.1 385.0 L408.9 385.8 L409.8 386.4 L410.6 386.8 L411.5 387.1 L412.4 387.4 L413.2 387.5 L414.1 387.6 L414.9 387.6 L415.8 387.6 L416.6 387.5 L417.5 387.4 L418.3 387.1 L419.2 386.7 L420.0 386.2 L420.9 385.5 L421.7 384.6 L422.6 383.3 L423.4 381.6 L424.3 379.5 L425.2 376.8 L426.0 373.4 L426.9 369.2 L427.7 364.1 L428.6 358.1 L429.4 351.1 L430.3 343.1 L431.1 334.2 L432.0 324.5 L432.8 314.3 L433.7 303.8 L434.5 293.3 L435.4 283.2 L436.2 274.0 L437.1 265.9 L438.0 259.5 L438.8 254.8 L439.7 252.3 L440.5 252.0 L441.4 253.8 L442.2 257.8 L443.1 263.6 L443.9 271.1 L444.8 279.8 L445.6 289.3 L446.5 299.3 L447.3 309.5 L448.2 319.3 L449.0 328.7 L449.9 337.4 L450.8 345.2 L451.6 352.2 L452.5 358.2 L453.3 363.3 L454.2 367.6 L455.0 371.1 L455.9 374.1 L456.7 376.5 L457.6 378.4 L458.4 380.0 L459.3 381.4 L460.1 382.5 L461.0 383.5 L461.9 384.4 L462.7 385.2 L463.6 385.9 L464.4 386.6 L465.3 387.2 L466.1 387.8 L467.0 388.3 L467.8 388.9 L468.7 389.4 L469.5 389.9 L470.4 390.3 L471.2 390.7 L472.1 391.1 L472.9 391.5 L473.8 391.8 L474.7 392.1 L475.5 392.4 L476.4 392.7 L477.2 392.9 L478.1 393.1 L478.9 393.3 L479.8 393.5 L480.6 393.6 L481.5 393.8 L482.3 393.9 L483.2 394.0 L484.0 394.1 L484.9 394.1 L485.7 394.2 L486.6 394.2 L487.5 394.3 L488.3 394.3 L489.2 394.3 L490.0 394.4 L490.9 394.4 L491.7 394.4 L492.6 394.4 L493.4 394.4 L494.3 394.4" stroke="#f00"/><path d="M341.5 394.6 L342.4 394.5 L343.2 394.4 L344.1 394.3 L344.9 394.2 L345.8 394.0 L346.6 393.9 L347.5 393.8 L348.3 393.7 L349.2 393.6 L350.1 393.5 L350.9 393.4 L351.8 393.3 L352.6 393.2 L353.5 393.1 L354.3 393.1 L355.2 393.0 L356.0 392.8 L356.9 392.7 L357.7 392.6 L358.6 392.4 L359.4 392.2 L360.3 392.0 L361.1 391.6 L362.0 391.3 L362.9 390.8 L363.7 390.2 L364.6 389.5 L365.4 388.7 L366.3 387.7 L367.1 386.5 L368.0 385.1 L368.8 383.5 L369.7 381.7 L370.5 379.6 L371.4 377.2 L372.2 374.5 L373.1 371.6 L373.9 368.4 L374.8 364.9 L375.7 361.1 L376.5 357.2 L377.4 353.0 L378.2 348.7 L379.1 344.3 L379.9 339.8 L380.8 335.4 L381.6 331.1 L382.5 326.9 L383.3 323.0 L384.2 319.4 L385.0 316.2 L385.9 313.4 L386.8 311.1 L387.6 309.4 L388.5 308.3 L389.3 307.8 L390.2 307.9 L391.0 308.7 L391.9 310.1 L392.7 312.0 L393.6 314.5 L394.4 317.5 L395.3 320.9 L396.1 324.7 L397.0 328.8 L397.8 333.1 L398.7 337.6 L399.6 342.1 L400.4 346.7 L401.3 351.2 L402.1 355.5 L403.0 359.8 L403.8 363.8 L404.7 367.6 L405.5 371.1 L406.4 374.3 L407.2 377.3 L408.1 380.0 L408.9 382.4 L409.8 384.5 L410.6 386.4 L411.5 388.0 L412.4 389.5 L413.2 390.7 L414.1 391.7 L414.9 389.6 L415.8 388.1 L416.6 386.3 L417.5 384.3 L418.3 382.0 L419.2 379.3 L420.0 376.3 L420.9 372.9 L421.7 369.1 L422.6 364.9 L423.4 360.4 L424.3 355.5 L425.2 350.3 L426.0 344.7 L426.9 338.9 L427.7 332.9 L428.6 326.8 L429.4 320.7 L430.3 314.6 L431.1 308.6 L432.0 302.9 L432.8 297.5 L433.7 292.6 L434.5 288.2 L435.4 284.4 L436.2 281.3 L437.1 279.0 L438.0 277.5 L438.8 276.8 L439.7 277.0 L440.5 278.0 L441.4 279.9 L442.2 282.5 L443.1 285.9 L443.9 290.0 L444.8 294.6 L445.6 299.7 L446.5 305.3 L447.3 311.1 L448.2 317.1 L449.0 323.2 L449.9 329.3 L450.8 335.3 L451.6 341.2 L452.5 346.8 L453.3 352.2 L454.2 357.2 L455.0 361.9 L455.9 366.3 L456.7 370.2 L457.6 373.7 L458.4 376.9 L459.3 379.7 L460.1 382.2 L461.0 384.3 L461.9 386.1 L462.7 387.7 L463.6 389.0 L464.4 390.1 L465.3 391.0 L466.1 391.7 L467.0 392.3 L467.8 392.8 L468.7 393.2 L469.5 393.5 L470.4 393.7 L471.2 393.9 L472.1 394.0 L472.9 394.1 L473.8 394.2 L474.7 394.2 L475.5 394.3 L476.4 394.3 L477.2 394.3 L478.1 394.4 L478.9 394.4 L479.8 394.4 L480.6 394.4 L481.5 394.5 L482.3 394.5 L483.2 394.5 L484.0 394.6 L484.9 394.6 L485.7 394.7 L486.6 394.7 L487.5 394.8 L488.3 394.9 L489.2 394.9 L490.0 395.0 L490.9 395.1 L491.7 395.1 L492.6 395.2 L493.4 395.3 L494.3 395.3" stroke="#f00" stroke-dasharray="4.2 2.2"/></g><g class="tb"><text x="554.8" y="15.75" textLength="116.1" lengthAdjust="spacingAndGlyphs">template parameter</text><text x="687.2" y="15.75" textLength="29.7" lengthAdjust="spacingAndGlyphs">value</text><text x="553.3" y="40.35" textLength="117.6" lengthAdjust="spacingAndGlyphs"><tspan class="i">σ</tspan> (ring width [<tspan class="i">µ</tspan>as])</text><text x="690.2" y="40.35" textLength="23.8" lengthAdjust="spacingAndGlyphs">6.60</text><text x="583.3" y="60.65" textLength="87.6" lengthAdjust="spacingAndGlyphs"><tspan class="i">τ</tspan> (asymmetry)</text><text x="690.2" y="60.65" textLength="23.8" lengthAdjust="spacingAndGlyphs">0.06</text><text x="526.6" y="81.05" textLength="144.3" lengthAdjust="spacingAndGlyphs"><tspan class="i">ξ</tspan><tspan class="i sub" dy="2">τ</tspan><tspan dy="-2"> (asymm. orientation)</tspan></text><text x="690.2" y="81.05" textLength="23.8" lengthAdjust="spacingAndGlyphs">2.77</text><text x="621.5" y="101.35" textLength="49.4" lengthAdjust="spacingAndGlyphs"><tspan class="i">s</tspan> (slash)</text><text x="690.2" y="101.35" textLength="23.8" lengthAdjust="spacingAndGlyphs">0.47</text><text x="545.6" y="122.15" textLength="125.3" lengthAdjust="spacingAndGlyphs"><tspan class="i">ξ</tspan><tspan class="i sub" dy="2">s</tspan><tspan dy="-2"> (slash orientation)</tspan></text><text x="690.2" y="122.15" textLength="23.8" lengthAdjust="spacingAndGlyphs">4.89</text><text x="546.6" y="143.95" textLength="124.3" lengthAdjust="spacingAndGlyphs"><tspan class="i">r</tspan><tspan class="sub" dy="2">0</tspan><tspan dy="-2"> (ring radius [</tspan><tspan class="i">µ</tspan>as])</text><text x="690.2" y="143.95" textLength="23.8" lengthAdjust="spacingAndGlyphs">20.7</text><text x="554.2" y="164.55" textLength="116.7" lengthAdjust="spacingAndGlyphs"><tspan class="i">x</tspan><tspan class="sub" dy="2">0</tspan><tspan dy="-2"> (offset RA [</tspan><tspan class="i">µ</tspan>as])</text><text x="688.0" y="164.55" textLength="28.3" lengthAdjust="spacingAndGlyphs">-1.34</text><text x="545.9" y="184.95" textLength="125.0" lengthAdjust="spacingAndGlyphs"><tspan class="i">y</tspan><tspan class="sub" dy="2">0</tspan><tspan dy="-2"> (offset DEC [</tspan><tspan class="i">µ</tspan>as])</text><text x="690.2" y="184.95" textLength="23.8" lengthAdjust="spacingAndGlyphs">5.29</text><text x="546.6" y="208.95" textLength="124.3" lengthAdjust="spacingAndGlyphs">optimized divergence</text><text x="686.8" y="208.95" textLength="30.6" lengthAdjust="spacingAndGlyphs">0.017</text><path d="M518.9 21.1H725.9" stroke="#4a4a4a" stroke-width="0.85"/><path d="M518.9 23.6H725.9" stroke="#4a4a4a" stroke-width="0.85"/><path d="M518.9 127.7H725.9" stroke="#4a4a4a" stroke-width="0.85"/><path d="M518.9 190.5H725.9" stroke="#4a4a4a" stroke-width="0.85"/><path d="M518.9 193.0H725.9" stroke="#4a4a4a" stroke-width="0.85"/><path d="M678.9 0.0V21.1M678.9 23.6V190.5M678.9 193.0V214.5" stroke="#4a4a4a" stroke-width="0.9"/></g><g class="tb"><text x="549.6" y="241.75" textLength="116.1" lengthAdjust="spacingAndGlyphs">template parameter</text><text x="683.1" y="241.75" textLength="29.7" lengthAdjust="spacingAndGlyphs">value</text><text x="548.1" y="266.35" textLength="117.6" lengthAdjust="spacingAndGlyphs"><tspan class="i">σ</tspan> (ring width [<tspan class="i">µ</tspan>as])</text><text x="686.1" y="266.35" textLength="23.8" lengthAdjust="spacingAndGlyphs">8.38</text><text x="578.1" y="286.65" textLength="87.6" lengthAdjust="spacingAndGlyphs"><tspan class="i">τ</tspan> (asymmetry)</text><text x="686.1" y="286.65" textLength="23.8" lengthAdjust="spacingAndGlyphs">0.01</text><text x="521.4" y="307.05" textLength="144.3" lengthAdjust="spacingAndGlyphs"><tspan class="i">ξ</tspan><tspan class="i sub" dy="2">τ</tspan><tspan dy="-2"> (asymm. orientation)</tspan></text><text x="686.1" y="307.05" textLength="23.8" lengthAdjust="spacingAndGlyphs">1.86</text><text x="616.3" y="327.35" textLength="49.4" lengthAdjust="spacingAndGlyphs"><tspan class="i">s</tspan> (slash)</text><text x="682.7" y="327.35" textLength="30.6" lengthAdjust="spacingAndGlyphs">0.157</text><text x="540.4" y="348.15" textLength="125.3" lengthAdjust="spacingAndGlyphs"><tspan class="i">ξ</tspan><tspan class="i sub" dy="2">s</tspan><tspan dy="-2"> (slash orientation)</tspan></text><text x="686.1" y="348.15" textLength="23.8" lengthAdjust="spacingAndGlyphs">4.42</text><text x="541.4" y="369.95" textLength="124.3" lengthAdjust="spacingAndGlyphs"><tspan class="i">r</tspan><tspan class="sub" dy="2">0</tspan><tspan dy="-2"> (ring radius [</tspan><tspan class="i">µ</tspan>as])</text><text x="686.1" y="369.95" textLength="23.8" lengthAdjust="spacingAndGlyphs">20.6</text><text x="549.0" y="390.55" textLength="116.7" lengthAdjust="spacingAndGlyphs"><tspan class="i">x</tspan><tspan class="sub" dy="2">0</tspan><tspan dy="-2"> (offset RA [</tspan><tspan class="i">µ</tspan>as])</text><text x="686.1" y="390.55" textLength="23.8" lengthAdjust="spacingAndGlyphs">0.03</text><text x="540.7" y="410.95" textLength="125.0" lengthAdjust="spacingAndGlyphs"><tspan class="i">y</tspan><tspan class="sub" dy="2">0</tspan><tspan dy="-2"> (offset DEC [</tspan><tspan class="i">µ</tspan>as])</text><text x="686.1" y="410.95" textLength="23.8" lengthAdjust="spacingAndGlyphs">2.73</text><text x="541.4" y="434.95" textLength="124.3" lengthAdjust="spacingAndGlyphs">optimized divergence</text><text x="682.7" y="434.95" textLength="30.6" lengthAdjust="spacingAndGlyphs">0.006</text><path d="M514.4 247.1H721.4" stroke="#4a4a4a" stroke-width="0.85"/><path d="M514.4 249.6H721.4" stroke="#4a4a4a" stroke-width="0.85"/><path d="M514.4 353.7H721.4" stroke="#4a4a4a" stroke-width="0.85"/><path d="M514.4 416.5H721.4" stroke="#4a4a4a" stroke-width="0.85"/><path d="M514.4 419.0H721.4" stroke="#4a4a4a" stroke-width="0.85"/><path d="M674.4 226.0V247.1M674.4 249.6V416.5M674.4 419.0V440.0" stroke="#4a4a4a" stroke-width="0.9"/></g>
</svg>
</body></html>
